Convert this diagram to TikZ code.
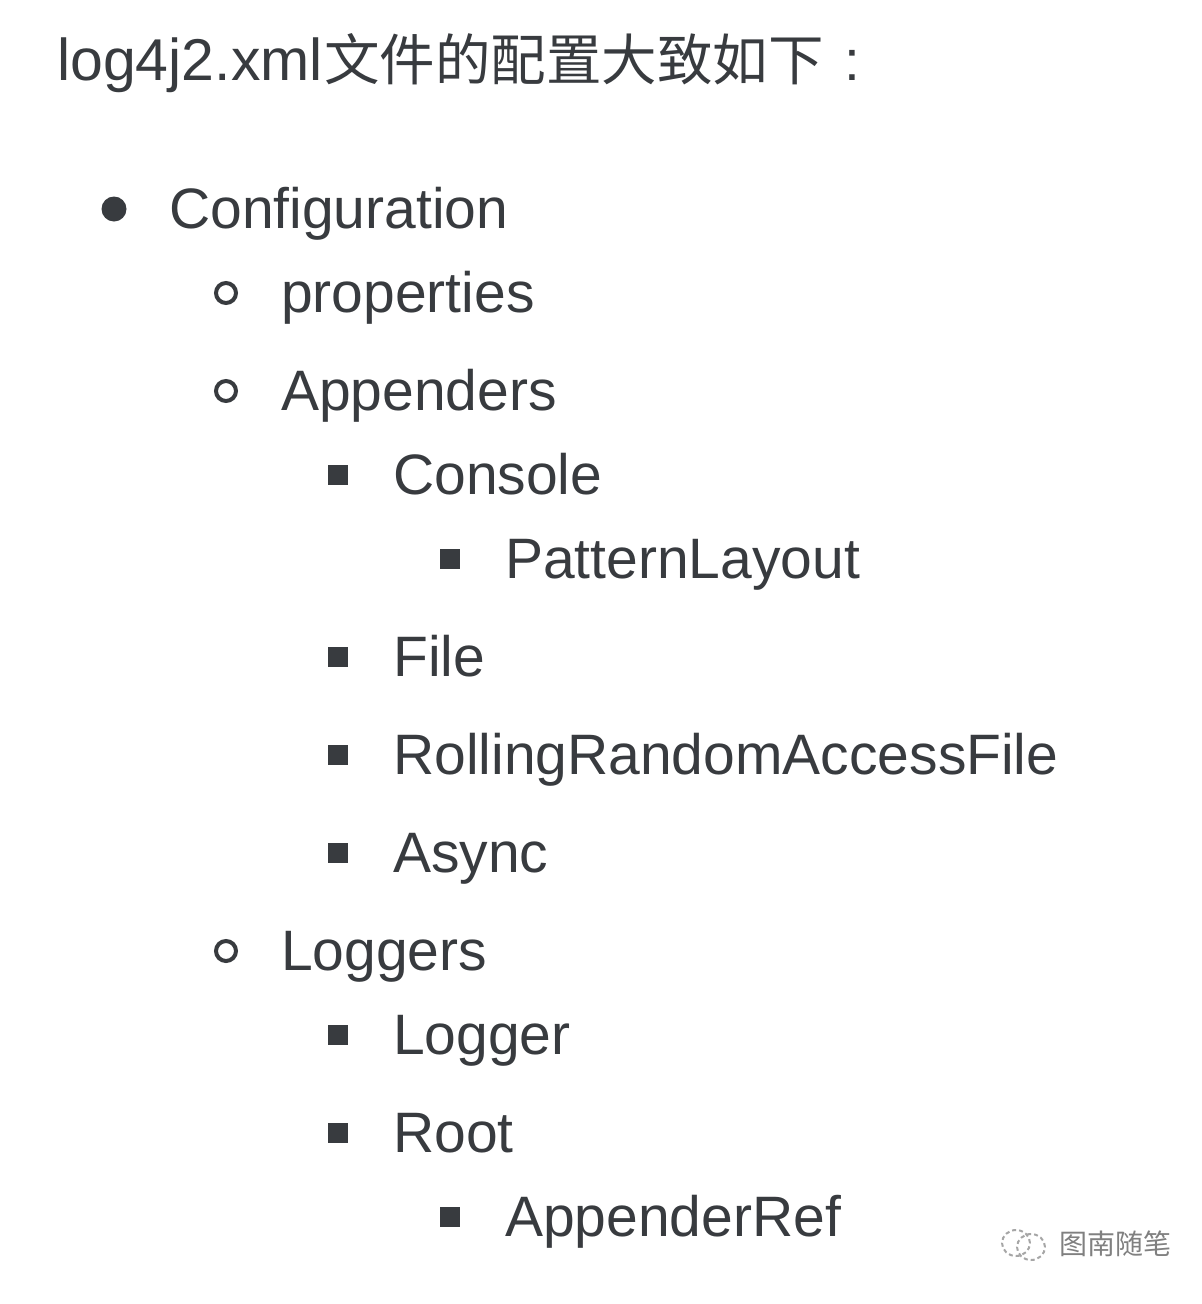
\documentclass[tikz,border=0pt]{standalone}
\usepackage{fontspec}
\setmainfont{Liberation Sans}
\newfontfamily\cjk{Noto Sans CJK SC}
\definecolor{inkc}{HTML}{383B3F}
\tikzset{
  itemtext/.style={anchor=base west,inner sep=0pt,text=inkc,font=\fontsize{57}{64}\selectfont},
  dotb/.style={circle,fill=inkc,minimum size=25pt,inner sep=0pt},
  ringb/.style={circle,draw=inkc,line width=4pt,minimum size=20pt,inner sep=0pt},
  squareb/.style={rectangle,fill=inkc,minimum size=20pt,inner sep=0pt},
  wechat/.style={draw=gray!70,line width=2pt,dash pattern=on 4pt off 3pt},
}
\begin{document}
\begin{tikzpicture}[x=1pt,y=-1pt]
  \useasboundingbox[fill=white] (0,0) rectangle (1202,1304);
  \node (title) [itemtext,font=\fontsize{59}{64}\selectfont] at (57,80) {log4j2.xml};
  \node (titlecn) [itemtext,font=\cjk\fontsize{55.5}{64}\selectfont] at (324,80) {文件的配置大致如下};
  \node (colon) [itemtext] at (844,80) {:};
  % first level
  \node (bconf) [dotb] at (114,209) {};
  \node (conf) [itemtext] at (169,228) {Configuration};
  % second level
  \node (bprop) [ringb] at (226,293) {};
  \node (prop) [itemtext] at (281,312) {properties};
  \node (bapp) [ringb] at (226,391) {};
  \node (app) [itemtext] at (281,410) {Appenders};
  \node (blog) [ringb] at (226,951) {};
  \node (log) [itemtext] at (281,970) {Loggers};
  % third level
  \foreach \name/\txt/\ypos in {cons/Console/475,file/File/657,roll/RollingRandomAccessFile/755,asyn/Async/853,logg/Logger/1035,root/Root/1133}
  {
    \node (b\name) [squareb] at (338,\ypos) {};
    \node (\name) [itemtext] at (393,\ypos+19) {\txt};
  }
  % fourth level
  \foreach \name/\txt/\ypos in {patt/PatternLayout/559,aref/AppenderRef/1217}
  {
    \node (b\name) [squareb] at (450,\ypos) {};
    \node (\name) [itemtext] at (505,\ypos+19) {\txt};
  }
  % watermark
  \draw [wechat] (1016,1243) ellipse [x radius=14pt,y radius=13pt];
  \draw [wechat] (1031,1247) ellipse [x radius=14pt,y radius=13pt];
  \node (mark) [anchor=base west,inner sep=0pt,text=gray,font=\cjk\fontsize{28}{30}\selectfont] at (1059,1254) {图南随笔};
\end{tikzpicture}
\end{document}
